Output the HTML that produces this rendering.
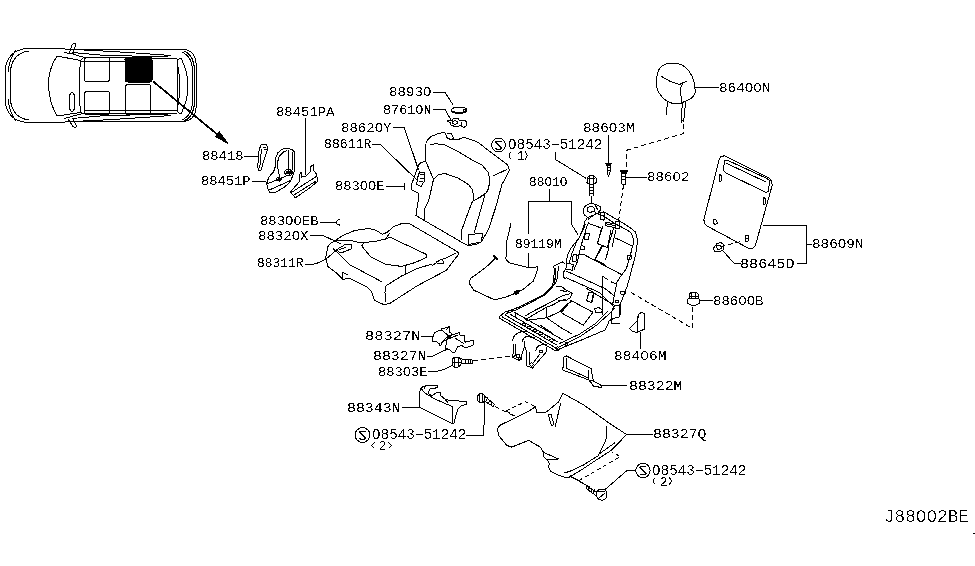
<!DOCTYPE html>
<html><head><meta charset="utf-8"><style>
html,body{margin:0;padding:0;background:#fff;width:975px;height:566px;overflow:hidden}
svg{position:absolute;left:0;top:0}
text{font-family:"Liberation Mono",monospace;fill:#000}
</style></head><body>
<svg width="975" height="566" viewBox="0 0 975 566" shape-rendering="crispEdges">
<defs><filter id="bin" filterUnits="userSpaceOnUse" x="0" y="0" width="975" height="566"><feComponentTransfer><feFuncA type="discrete" tableValues="0 1"/></feComponentTransfer></filter><filter id="bin3" filterUnits="userSpaceOnUse" x="0" y="0" width="975" height="566"><feComponentTransfer><feFuncA type="discrete" tableValues="0 0 1"/></feComponentTransfer></filter></defs>
<rect width="975" height="566" fill="#fff"/>
<g filter="url(#bin)">

<text x="389" y="96" font-size="13" textLength="42.5" lengthAdjust="spacingAndGlyphs">8893O</text>
<text x="383" y="114" font-size="13" textLength="48.5" lengthAdjust="spacingAndGlyphs">8761ON</text>
<text x="276" y="116" font-size="13" textLength="58.5" lengthAdjust="spacingAndGlyphs">88451PA</text>
<text x="341" y="132" font-size="13" textLength="50.5" lengthAdjust="spacingAndGlyphs">8862OY</text>
<text x="324" y="148" font-size="13" textLength="47.5" lengthAdjust="spacingAndGlyphs">88611R</text>
<text x="202" y="160" font-size="13" textLength="41.5" lengthAdjust="spacingAndGlyphs">88418</text>
<text x="201" y="185" font-size="13" textLength="49.5" lengthAdjust="spacingAndGlyphs">88451P</text>
<text x="335" y="190" font-size="13" textLength="49.5" lengthAdjust="spacingAndGlyphs">883OOE</text>
<text x="260" y="225" font-size="13" textLength="58.5" lengthAdjust="spacingAndGlyphs">883OOEB</text>
<text x="258" y="240" font-size="13" textLength="50.5" lengthAdjust="spacingAndGlyphs">8832OX</text>
<text x="257" y="267" font-size="13" textLength="46.5" lengthAdjust="spacingAndGlyphs">88311R</text>
<text x="508" y="149" font-size="14" textLength="94.4" lengthAdjust="spacingAndGlyphs">O8543&#8722;51242</text>
<text x="583" y="132" font-size="13" textLength="51.5" lengthAdjust="spacingAndGlyphs">886O3M</text>
<text x="647" y="181" font-size="13" textLength="42.5" lengthAdjust="spacingAndGlyphs">886O2</text>
<text x="529" y="186" font-size="13" textLength="38.5" lengthAdjust="spacingAndGlyphs">88O1O</text>
<text x="515" y="248" font-size="13" textLength="46.5" lengthAdjust="spacingAndGlyphs">89119M</text>
<text x="719" y="92" font-size="13" textLength="51.5" lengthAdjust="spacingAndGlyphs">864OON</text>
<text x="812" y="248" font-size="13" textLength="51.5" lengthAdjust="spacingAndGlyphs">886O9N</text>
<text x="740" y="268" font-size="13" textLength="54.5" lengthAdjust="spacingAndGlyphs">88645D</text>
<text x="713" y="305" font-size="13" textLength="50.5" lengthAdjust="spacingAndGlyphs">886OOB</text>
<text x="614" y="360" font-size="13" textLength="52.5" lengthAdjust="spacingAndGlyphs">884O6M</text>
<text x="365" y="340" font-size="13" textLength="55.5" lengthAdjust="spacingAndGlyphs">88327N</text>
<text x="373" y="360" font-size="13" textLength="53.5" lengthAdjust="spacingAndGlyphs">88327N</text>
<text x="378" y="376" font-size="13" textLength="49.5" lengthAdjust="spacingAndGlyphs">883O3E</text>
<text x="629" y="390" font-size="13" textLength="53.5" lengthAdjust="spacingAndGlyphs">88322M</text>
<text x="347" y="412" font-size="13" textLength="53.5" lengthAdjust="spacingAndGlyphs">88343N</text>
<text x="372" y="439" font-size="14" textLength="94.4" lengthAdjust="spacingAndGlyphs">O8543&#8722;51242</text>
<text x="653" y="438" font-size="13" textLength="53.5" lengthAdjust="spacingAndGlyphs">88327Q</text>
<text x="652" y="475" font-size="14" textLength="94.4" lengthAdjust="spacingAndGlyphs">O8543&#8722;51242</text>
<text filter="url(#bin3)" x="884" y="522" font-size="18" textLength="85.0" lengthAdjust="spacingAndGlyphs">J88OO2BE</text>
<text x="517" y="160" font-size="12">1</text>
<text x="379" y="450" font-size="12">2</text>
<text x="660" y="486" font-size="12.5">2</text>
</g>
<path d="M511.5,151.5Q507,155.5 511.5,159.5M525,151.5Q529.5,155.5 525,159.5M374.5,442.5L371.5,445.5L374.5,448.5M388.5,442.5L391.5,445.5L388.5,448.5M655.5,477.5Q651,481 655.5,484.5M669,477.5Q673.5,481 669,484.5" fill="none" stroke="#000" stroke-width="1"/>
<circle cx="498.5" cy="145" r="6.9" fill="none" stroke="#000" stroke-width="1"/>
<path transform="translate(498.5,145) scale(1.0)" d="M3,-3Q2,-4 0,-4L-2,-4L-3,-3L3,3L2,4L-2,4L-3,3" fill="none" stroke="#000" stroke-width="1"/>
<circle cx="362.5" cy="435" r="7.4" fill="none" stroke="#000" stroke-width="1"/>
<path transform="translate(362.5,435) scale(1.0)" d="M3,-3Q2,-4 0,-4L-2,-4L-3,-3L3,3L2,4L-2,4L-3,3" fill="none" stroke="#000" stroke-width="1"/>
<circle cx="643" cy="470.5" r="7.2" fill="none" stroke="#000" stroke-width="1"/>
<path transform="translate(643,470.5) scale(1.1)" d="M3,-3Q2,-4 0,-4L-2,-4L-3,-3L3,3L2,4L-2,4L-3,3" fill="none" stroke="#000" stroke-width="1"/>
<path d="M433,92.5H445L453.5,105.5 M433,109.5H445L450.8,119.5 M305.5,118V175 M393,127.5H404.3L418.5,170 M372,144.5H380.3L418,181 M244,156.5H257.5 M252,181.5H266 M386,186.5H404M404.5,183V190 M320,222.5H336.5 M310,235.5H323L341,243.8 M305,264.5H312Q325,262 335.5,250.6 M555.6,152.4V159.6L585.9,178.2 M608.5,135V162.6 M625,177.5H647 M549.5,189V201.8M528.5,234V201.8H571.8V224.8L578.2,235 M528.5,253V267.2 M695.4,87.5H719 M763.2,225.5H806.5V263.5H796.5M806.5,244.5H812 M741,263.8H734.5L721.8,249.5 M699.6,300.5H713.4 M640.5,332V348.9 M601,385.5H626.5 M421,336.5H432.7 M427,356.5H431.8L448.4,348.6 M428,371.5H435.4Q445,370 453,365 M402,407.5H419.5 M466,435.5H483.6L485,399.4 M626.2,434.5H652.9 M635,470.5H627L604.7,489.8" fill="none" stroke="#000" stroke-width="1"/>
<path d="M683,124.2V133.6L626.8,150.2V168.3 M623.5,185L618.5,222 M692.2,306.5V328.3L629.7,291.7 M473.3,360.6L511.4,356 M494.7,406.3L515.8,416.7 M720,247L741,241.5" fill="none" stroke="#000" stroke-width="1" stroke-dasharray="5,3"/>
<g fill="none" stroke="#000" stroke-width="1" stroke-linejoin="round" stroke-linecap="round">
<!-- CAR -->
<g id="car">
<path d="M27,48.5L59,48.5L65,49L182,49Q195,50 196,63L196,108Q195,121 182,121.5L65,122L59,122.5L27,122.5Q7,121 5,100L5,71Q7,50 27,48.5Z"/>
<path d="M29,51Q13,53 10.5,70L10.5,101Q13,118 29,120"/>
<path d="M16,50Q9,60 8,72M16,121Q9,111 8,99"/>
<path d="M57,56Q48,70 48.5,85Q49,102 57,116L80.5,112.5Q78,86 80.5,60.5Z"/>
<path d="M64,52.5L73,54L81,56.5L85,57.5L177,58.5M64,118.5L83,113.5L177,113.5M80.5,60.5L83,58M80.5,112.5L83,113.5M81,61.5H125M84.5,110.5H177"/>
<path d="M72,49.5Q110,51 171,55.5Q168,57.5 100,55L72,52.5"/>
<path d="M72,121.5Q110,120 171,115.5Q168,113.5 100,116L72,118.5"/>
<path d="M69,53.5L72,45Q74,42.5 76,44L73,53.5M68,119L73,126.5Q75,128 77,126.5L73,119"/>
<ellipse cx="72" cy="102" rx="3" ry="9.5"/>
<rect x="84.5" y="57.5" width="25" height="24" rx="2.5"/>
<rect x="84.5" y="91.5" width="25" height="23" rx="2.5"/>
<rect x="125" y="57" width="27" height="25" rx="2.5" fill="#000"/>
<rect x="125.5" y="84.5" width="25" height="30" rx="2.5"/>
<path d="M177,58.5Q178,86 177,113M181,58Q176,60 177.5,64Q182,86 177.5,108Q176,112 181,114Q188,100 188,86Q188,72 181,58Z"/>
<path d="M182,52Q192,56 192.5,70L192.5,102Q192,116 182,120M184,51Q194,55 194.5,70L194.5,102Q194,117 184,121"/>
<path d="M153.5,81.7L221,137.5" stroke-width="1.8"/>
<path d="M228,143.5L215.5,136.5L219.5,132Z" fill="#000"/>
</g>
</g>
<g fill="none" stroke="#000" stroke-width="1" stroke-linejoin="round" stroke-linecap="round">
<!-- 88418 -->
<path d="M261.4,144.5L266.7,145L267.7,148.5L266.7,151.7L263.5,161.2L261.4,169.7L259.2,170.8L257.7,167.6L258.7,152.7L260.3,146.4Z"/>
<path d="M261.4,149.5L259.8,167.6M263,147L266,148M264,150L266.5,149.5"/>
<!-- 88451P -->
<path d="M266.7,183.5L268.8,177.1L273.6,171.8L275.7,165.5L275.7,158L277.8,152.7L282.6,149L287.9,148.5L292.1,149.5L294.2,151.7L294.8,161.2L294.2,171.8L292.6,176.1L290,182.4L283.6,187.7L276.2,192L269.8,193L268.3,189.8Z"/>
<path d="M279.4,176.1L277.8,168L277.8,161.2L279.4,155.9L283.6,151.7L286.8,150.6M288.9,150.6L288.9,170.8M292.6,152.7L292.6,170"/>
<path d="M267,184L290,174.5M269.8,189.8L291,180.3"/>
<path d="M284,172L286.5,169.7L290.5,170L293,172.5L291,175L286,175Z"/><path d="M286,171.5H291V173.5H286Z" fill="#000"/>
<path d="M276,179L278.5,177.1L281.5,179.5L279.5,181.4Z"/><path d="M278,178.5H280V180H278Z" fill="#000"/>
<!-- 88451PA -->
<path d="M290.5,192L299.5,181.4L300.1,172.9L301.7,172.3L301.7,177.1L305.9,176.1L310.1,171.8L311.2,165.5L313.9,164.9L313.9,170.8L316.5,174L317.6,181.4L310.1,187.7L295.3,197.8Z"/>
<path d="M292.1,192L317,176.1M294,195L316,181"/>
<!-- 88930 -->
<path d="M451.5,110.5Q452,107 459,107Q466,107 467,110Q466,113.5 459,113.5Q452,113.5 451.5,110.5Z"/>
<path d="M452,111.5Q459,113 466,111.5"/>
<circle cx="464.5" cy="110.5" r="1.3"/>
<!-- 87610N -->
<path d="M447.5,121L452,120.5L454,118L458,118.5L460,121L465,120.5L466.5,122L466,126L464,127.5L460,125.5L456,127L451,125L450,122.5Z"/>
<ellipse cx="455" cy="122.5" rx="3" ry="1.6"/>
<path d="M461,122L461,126"/>
</g>
<g fill="none" stroke="#000" stroke-width="1" stroke-linejoin="round" stroke-linecap="round">
<!-- seat back 88620Y -->
<path d="M425.5,160.8L425.5,146.2Q426,140 431.5,136.3Q438,133 444.8,132.3L446.1,135.6L447.4,138.3L451.4,139.6L453.4,138.3L451.4,133.6L447,133.5M451.4,139.6L458,139.6L463.3,137.6L467.3,138.3L477.9,142.2L489.8,151.5L505.7,163.4Q509,166 509,169L509,171.4L505.7,178L501.8,184.6L497.8,200L495.4,208.3L488.4,229.5L486.6,233L481.3,241.9L476,244.6L468,245.4L462.7,242.8L424.7,220.7L415.9,215.4L418.3,200L418.3,193.3L411.6,190L411,186L418.3,166L419.6,163.4L425.5,160.8"/>
<path d="M430.2,144.9L435.5,143.6L444.8,144.9L458,151.5L471.3,159.5L481.9,164.8L488.5,172.7L489.8,180.7L488.5,188.6L486.5,192.6L476.6,199.2"/>
<path d="M493.1,176L507,169.4"/>
<path d="M425.5,160.8L433.5,179.3L428.9,200L424.7,208.3L424.7,219.8"/>
<path d="M433.5,179.3L438.1,174.7L444.8,173.4L458,178L468.6,184.6L472.6,190L473.9,200L472.5,201.3L469,210.1L461.9,229.5L461,240.1"/>
<path d="M472.5,201.3L485,194.5L474.2,233"/>
<path d="M468,234.8L483,233L481,242L468,244.6Z"/>
<!-- lever 88620Y -->
<path d="M419.5,172L424.5,172.5L424.5,181L421,186.5L416.5,184.5L418,176.5Z"/>
<path d="M420,174.5H423.5M419.5,178H423.5M419,181.5H423"/>
<!-- 88300E screw tick handled in leaders -->
<!-- seat cushion 88320X -->
<path d="M329.7,244L343.3,235.3L355,230.4L368.6,228.5L376.4,230.4L382.2,234.3L387,232.4L393.9,226.5L401.6,223.6L409.4,223.6L456,250.8Q459.5,253 458.4,254.7L456,257.6L446.4,270.3L417.2,285.8L390,303.3L384.2,304.7L374.4,300.4L371.5,291.6L366.7,286.8L349.2,278L345,279L342.4,279L335.6,272.2L327.8,266.4L325.8,256.7L327.8,246.9Z"/>
<path d="M336.5,241L349.2,240L360.8,243L376.4,241.1L385,239.2L390,237.2L427,254.7L426,257.6L415.3,262.5L401.6,266.4L386,264.4L370.5,256.7L361.8,246Q362,244 364,243.5"/>
<path d="M385,239.2L390,233"/>
<path d="M333.6,248.9L349.2,264.4L382.2,282"/>
<path d="M386,285.8Q384,292 386,301.4M386,285.8L401.6,276L416,269L432,264"/>
<path d="M405,274L405.5,266.6"/>
<path d="M432,266L440,260L446,258L456,253"/>
<path d="M436,262L442,259L444,263L438,264Z"/>
<path d="M342.4,279L342,272L348,275"/>
<!-- latch 88320X on cushion -->
<path d="M336,250L346,244L352,245L351,249L341,253Z"/>
<path d="M339,250L346,247"/>
<!-- 88300EB hook -->
<path d="M339.5,219.5Q336.5,220 336.5,222.5Q336.5,225 339.5,225"/>
</g>
<g fill="none" stroke="#000" stroke-width="1" stroke-linejoin="round" stroke-linecap="round">
<!-- headrest 86400N -->
<path d="M667,63.6Q675,62.5 681.8,64.8Q691,70 694,82.2L695.4,92Q694,97 689,99.5L679.3,104L671.9,103.2Q664,100 662,97Q656,90 656.3,82.2Q657,72 659.5,68.6Q662,65 667,63.6Z"/>
<path d="M660.7,76L669.4,81L679.3,84.6L686.7,81M683,83.4Q680,87 680.5,92L681.8,103"/>
<path d="M667.4,102L666.4,114.8M682.3,102.5L681.3,123M685.5,102.5L683.7,121.8M681.3,120H684"/>
<!-- bolt 08543 (1) -->
<path d="M587,180Q587,176 591.5,175.5Q596,176 596.5,180Q596,184 591.5,184.5Q587,184 587,180Z"/>
<path d="M588.5,178.5H594.5M589.5,176.5V183M593.5,176.5V183M586.5,182.5Q591.5,186 596.5,182.5"/>
<path d="M589.5,185V196M593.5,185V196M589.5,188L593.5,187M589.5,191L593.5,190M589.5,194L593.5,193"/>
<path d="M591.5,196V204"/>
<!-- 88603M screw -->
<path d="M605.5,163H611.5L610,165.5H607Z" fill="#000"/>
<path d="M607,165.5L607,172L608.5,176.5L610,172L610,165.5M607,168L610,167.5M607,170.5L610,170"/>
<!-- 88602 screw -->
<path d="M620.5,170.5H627.5L626,173.5H622Z" fill="#000"/>
<path d="M622,173.5L621.5,184L625.5,184L626,173.5M622,177L626,176.5M622,180L625.5,179.5"/>
<!-- panel 88609N -->
<path d="M719.5,158.5Q721,155.5 725,156L768,177.5Q772.5,180 772,186L755.5,245Q753.5,249.5 749,248.5L707,226Q703.5,223.5 704,219L719.5,158.5Z"/>
<path d="M724.5,161Q726,159.5 728,160.5L767,178.5Q770,180 769.5,183L768.5,190Q768,193 765,192L726,173Q723,171.5 723.5,169Z"/>
<path d="M727,163.5L766,182"/>
<path d="M719.5,175Q721,174 721.5,177L721,181Q720,183 719,181Z"/>
<path d="M763.5,198Q765,197 765.5,200L765,204Q764,206 763,204Z"/>
<path d="M713,219L716,220L717.5,223L715,225L713.5,223Z"/>
<circle cx="747" cy="237" r="1.8"/><circle cx="747" cy="240" r="1.5"/>
<!-- clip 88645D -->
<path d="M713,249L717,243.5L721,242.5L724,245L723,250L719,252L715,251.5Z"/>
<path d="M716,246L720,245L722,248L718,250Z"/>
<!-- nut 88600B -->
<path d="M689.5,299L689.5,294Q690,292.5 693.5,292.5Q697.5,292.5 698,294L698,299"/>
<path d="M691.5,293V299M695.5,293V299M689.5,296H698"/>
<path d="M687,300Q687,298.5 693.5,298.5Q700,298.5 700,300L699.5,303Q697,305.5 693.5,305.5Q690,305.5 687.5,303Z"/>
<!-- 88406M -->
<path d="M629.7,328.3L637,321.3L638.2,315L641.3,312.2L644.5,313.5L645,328.8L637,332.6L631.8,330.9Z"/>
<path d="M638.2,315L637,332.6M637,321.3L637.5,326"/>
</g>
<g fill="none" stroke="#000" stroke-width="1" stroke-linejoin="round" stroke-linecap="round">
<!-- FRAME 88010 back -->
<path d="M584,207.6Q586,204.5 590.9,203.3Q596.7,204 600.6,206.7L600.6,209.6L598,213L593,215.5L587.5,217.4L585,215.4Q583.5,213.5 583.6,211.5Z"/>
<path d="M588,207.5Q591,206 594,207.5L594.5,211L590,212.5L587.5,211ZM595.5,205.5L597.5,209.5"/>
<path d="M587.5,217.4L585,221.3L582.1,231L579.2,237.8L575.3,242.7L571.3,247.8L567.4,255.6L566.4,262.4"/>
<path d="M585.5,224.2L580.2,235.9L577,241L572.2,252.6L569.3,262.4"/>
<path d="M588.9,222.2L587,226.1L584,235.9L581.1,245.6L580.2,249.5L577.1,262.4L574.2,269.2"/>
<path d="M588,219.3L595.7,213.5L602.5,212.5L603.5,211.7L616.2,219.1L622.5,222.8L630,227.5L635.3,231.8Q637,235 637.4,240.3L636.8,247.7L635,257L627.4,285.7L622.1,299.5L620,304.8L620,315"/>
<path d="M595,212.7L603.5,215.9L616.2,224.4L622.5,227.5L630,231.8Q633.5,236 633.7,242.4L632.1,247.7L630,257L626.3,268.8L620,277.3L616.8,282.6L612.6,304.8"/>
<path d="M588,223.2L601.6,228.1M615.7,238.1L631.5,245.6M579,254.1L583.9,254.6L621.6,274.6"/>
<path d="M600.8,212.7L604.5,213L604,220.1L600.5,219.5ZM615.7,221.2L619.9,222L619,228.6L615,228Z"/>
<path d="M605.6,222.2L615.7,224L615.2,227.5L605.2,225.7ZM606,223.8L615,225.6"/>
<path d="M603,226.5L597.1,243.4L607.7,247.7L613.5,228.6M611,229.7L607.7,246.6M615.7,230.7L612,247.1"/>
<path d="M601.6,228.1L597.7,242.7M602.4,246.6L595,259.3M608.8,247.7L605.6,260M601.4,246.8L594.6,259.5L605,264.3"/>
<path d="M585.5,233L589.9,233.5L588,239.7L584,239ZM581,245.8L584.9,246.3L584,249.7L580.2,249.2ZM573.2,254.6L577.1,255L576,261.4L572,261Z"/>
<path d="M627.8,255L632,255.5L631,259.3L627,259Z"/>
<path d="M566.4,263.3L573.2,264.3L572.7,270.2L565.9,269.2ZM565.9,269.2L563.5,272.1L563,277L565.9,278.9"/>
<path d="M566.4,271.1L605,288.6L613.6,295.3M566.4,277.9L599.5,292.5L612.6,305.9"/>
<path d="M553.3,266.3L562.5,261.9L564.5,263.3M553.3,266.3L554.7,269.2L552.8,284.7M555.7,268.2L554.7,282.8M558.6,266.3L556.7,281.8"/>
<path d="M602.5,315L602.5,276.2L607.3,279.4M611.5,282L616.8,284.2"/>
<path d="M589.2,292.1L593.5,293.2L591.4,302.7L586.6,300.6Z"/>
<path d="M621,291L625.3,291.5L625,294.2L620.5,294ZM616,300.5L618.5,301L618,303L615.5,302.5Z"/>
<!-- FRAME seat pan -->
<path d="M502.3,314.2L505,312L516.5,308L531.5,301L542.1,295.7L551,287.7L554.5,283.3L555.4,278"/>
<path d="M505,314.3L516.5,309.8L531.5,302.3L544.8,294.8L552.7,286.8L556.3,281.5L557.2,278"/>
<path d="M499.7,316.5L502.3,314.2M499.7,316.5L499.7,318.4L555.4,350.7Q558,351.7 558.5,349.5L502.3,316.9"/>
<path d="M506,315.6L557,345.2M510,314.2L558,342.0M514,312L563,340"/>
<path d="M525.3,316L534.2,310.7L544.8,305.4L554.5,300.1L562.5,295.7L569.5,293.9"/>
<path d="M525.3,319.6L546.6,307.2L551.9,305.4L559.8,301L566,299.2"/>
<path d="M526.2,320.4L546.6,317.8L559.8,311.6L566.9,304.5L572,301"/>
<path d="M515.2,312.5L515.2,317.8M546.6,308L546.6,317.8L561.6,328L572,334M561.2,312.7L583.3,325.1L593,312.3L571,300.5L561.2,312.7M540,325L552,333"/>
<path d="M558.6,347.3L579.8,336.7L597,324.8L610.3,312.8L614.2,308.2"/>
<path d="M559.9,343.3L579.8,334L595.7,323.4L607.6,311.5"/>
<path d="M557.2,350L566.5,346L579.8,340.7L595.7,334L605,330L607.6,324.8L609,320.8L614.2,318.1L619.5,316.8L619.5,304.9"/>
<path d="M586,288L593,292.4L615,305.7M588.6,292.4L586.8,300.4M593.9,293.3L592.1,302.1"/>
<path d="M611.6,311.5L614.2,306.2L619.5,304.9M611.6,311.5L611,323.4L619.5,323.4"/>
<path d="M594.3,308.5L599,307.5L602.3,310L601,312.8L596,312.5Z"/>
<path d="M556.3,286L562,287L566,290L572.2,293L570,298L565,301L558,300M560,290L567,292"/>
<path d="M513.8,292L517,290.5L519,293L516,294.8Z" fill="#000"/>
<path d="M507.5,312L509,311.3M511,310.6L512.5,310M519.5,307.4L521,306.6M523.5,305.5L525,304.8M527.5,303.6L529,302.9M534,300.3L535.5,299.6M538,298.2L539.5,297.4M545,293.5L546.5,292.6M549,290.4L550,289.5"/>
<ellipse cx="524" cy="324.2" rx="2" ry="1.2"/><ellipse cx="529.5" cy="327.4" rx="2" ry="1.2"/><ellipse cx="535" cy="330.5" rx="2" ry="1.2"/><ellipse cx="540.5" cy="333.7" rx="2" ry="1.2"/><ellipse cx="546" cy="336.9" rx="2" ry="1.2"/><ellipse cx="551.5" cy="340.1" rx="2" ry="1.2"/>
<circle cx="566.5" cy="344" r="1.5"/><circle cx="557.5" cy="348.3" r="1.6"/>
<!-- legs -->
<path d="M512.5,341Q513,334 521.6,331.6L527,331"/>
<path d="M522.4,341.6Q523,337 527.5,336.5L535,338"/>
<path d="M535.7,350.7Q537,345.5 541,345L547,344.5"/>
<path d="M513.3,344.1L512.9,357.4L519.9,360.7L524.9,345.7L524.5,342M515.8,344.9L515,356.5"/>
<circle cx="518" cy="356" r="1.6"/><circle cx="520" cy="358.5" r="1.4"/><path d="M513,357L517,354.5"/>
<path d="M526.6,351.6L526.6,365.7L532.4,368.2L546.5,351.6L546.5,347.4M529.1,352.4L529.1,364.8M524.5,345.7L526.6,351.6"/>
<circle cx="531.5" cy="364.5" r="1.6"/><circle cx="541" cy="351.5" r="1.6"/><path d="M533,363L540,354"/>
</g>
<g fill="none" stroke="#000" stroke-width="1" stroke-linejoin="round" stroke-linecap="round">
<!-- wire 89119M -->
<path d="M511,223.6L507,239.7L505.9,259.2Q508,263 512.8,263.8L528.9,267.7L538,266.8L536.9,271.8L533.4,281L522,290.2L517.4,292.5L505.9,297L494.4,299.8L473.8,290.2L469.2,283.3L470.3,278.7L483,269.5L489.8,263.8L495.6,258"/>
<path d="M493.5,256L497.5,259M515,293.5L520,290.5" stroke-width="2"/>
<!-- 88327N parts -->
<path d="M432.9,336.8L434.2,333.1L436.7,331.3L441,330L441.3,328.2L447.8,327.9L449.3,326.3L449.6,332.5L451.5,333.1L451.5,335L446.5,337.5L444,340.5L441.9,342.4L441,345.5L439.4,345.5L439.1,343.6L436.7,341.8L432.6,341.8L432.3,339.9Z"/>
<path d="M441.6,330L448.4,335.6M447.8,327.9L446,330"/>
<path d="M445.9,340.5L446.5,342.4L445.3,348L449,349.2L453.3,352.9L455.2,351.7L457.7,346.7L462,345.5L465.1,348L473.7,344.9L473.7,340.5L472.5,340.2L465.1,342.4L464.5,335.6L460.1,335.3L459.5,332.5L454,334.4L451.5,335L447.8,338.7Z"/>
<path d="M455.2,338.1L463.8,343.6M448,339L458,335"/>
<!-- bolt 88303E -->
<path d="M452,362Q452,357 456,357Q461,357 461.5,362Q461,367 456,367.5Q452,367 452,362Z"/>
<path d="M454.5,358L454.5,366.5M458.5,358L458.5,366.5M452.5,362H461"/>
<path d="M461.5,359L472,359.5L472,363.5L461.5,364M465,359V364M468,359.5V363.5M470.5,359.5V363.5"/>
<!-- 88322M -->
<path d="M564,356.8L566.5,356L591,368.5L593.5,381L601.5,385.5L601,387.5L593.5,386L589,380L564,370.5L562.8,369.7Z"/>
<path d="M566.5,358.5L567,368.5L588.5,378L589,370.5M593.5,381L589,380"/>
<!-- 88343N -->
<path d="M419.5,392L421.5,387.5L426,385.5L437,385L438,387.5L430,389L428,393.5L432,396L436,393L440,392L441,396L445,399L448,400L452,400.5L466,401.5L466.5,404L461,406L458,409L456,415L454,423L452,423.5L420,407.5Z"/>
<path d="M421.5,389L425,393L433,398L446,404L452.5,406.5L452,423.5"/>
<path d="M426,385.5L424,389M430,389L436,388M445,399L448,403"/>
<!-- bolt 08543 (2) -->
<path d="M477.5,398Q477.5,393.5 481,393.5Q484.5,393.5 485,398.5Q484.5,403 481,403Q477.5,402.5 477.5,398Z"/>
<path d="M479.5,394L479.5,402.5M482.5,394L482.5,402.5"/>
<path d="M485,396.5L494.7,404.5L493,406.5L484.5,401M487.5,398L486,401M490,400L488.5,403M492.5,402.5L491,404.5"/>
<!-- 88327Q -->
<path d="M563,393.4L584,405.1L607.4,421.9L617.5,428.6L626.7,434.5L621.3,440L610.2,451.1L597.2,459.4L583.4,468.6L569.5,477L564,477L558.5,475.1L551,471.4L548.8,467.7L549.2,463L547,459.9L543.7,457L543.7,452.5L540.3,447.1L528.6,440.4L511.8,447.1L506.8,445.4L498.4,435.3L497.6,428.6L500,425.3L513.5,418.6L530.3,410.2L535.3,406.8L537,412.7L545.4,412.7L558.8,401.8Z"/>
<path d="M560.5,403.5L555.4,426.1M548.7,414.4L551,414L553.8,424L552,426.1L549.5,420Z"/>
<path d="M606.6,426.1Q607,435 605.8,440.4L598.2,455.7L583.4,465L568.6,471.9L564.5,472.3M598,454.8L614.8,442.8"/>
<path d="M543.7,452.5L558.5,459L553,459.4L547,459.9"/>
<path d="M570.5,476.5L589.9,487.1M570.5,476L578.8,480.6"/>
</g>
<g fill="none" stroke="#000" stroke-width="1" stroke-dasharray="4,3">
<path d="M505.9,411L525.2,401.8L535.3,406.8M505.9,411L515.2,416"/>
<path d="M578.8,480.6L620.3,456.6L612,452"/>
</g>
<g fill="none" stroke="#000" stroke-width="1" stroke-linejoin="round" stroke-linecap="round">
<!-- bolt 08543 (3) -->
<path d="M596.5,494.5Q596,490 600.5,489.5L604,489.5Q607,491 607,495Q606.5,499.5 602,500.3Q597,500 596.5,494.5Z"/>
<path d="M598,491.5L605,491.5M599.5,497.5L604.5,493.5"/>
<path d="M587,486.5L597,492.5M587,486.5L586,488.5L596.5,496M589.5,487L588.5,490M592,488.5L591,491.5M594.5,490L593.5,493"/>
</g>
<rect x="973" y="533" width="2" height="1" fill="#000"/>

</svg></body></html>
